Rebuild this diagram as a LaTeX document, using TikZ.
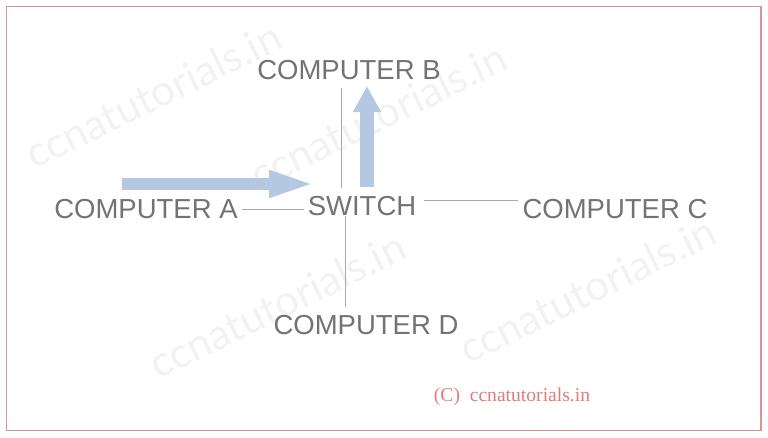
\documentclass[tikz,border=0pt]{standalone}
\usepackage{fontspec}
\setmainfont{Liberation Sans}
\newfontfamily\wmfont{Lato}
\newfontfamily\notefont{Liberation Serif}
\usetikzlibrary{arrows.meta}
\definecolor{labelgray}{HTML}{737373}
\definecolor{linkgray}{HTML}{A8A8A8}
\definecolor{flowblue}{HTML}{B4C8E1}
\definecolor{framepink}{HTML}{D99595}
\definecolor{notered}{HTML}{E07B7B}
\definecolor{wmgray}{HTML}{F2F2F2}
\tikzstyle{device}=[text=labelgray, font=\fontsize{27.5}{30}\selectfont, inner xsep=4pt, inner ysep=8pt]
\tikzstyle{link}=[draw=linkgray, line width=0.9pt]
\tikzstyle{flow}=[draw=flowblue, line width=12pt, -{Triangle[length=47pt, width=24pt]}]
\tikzstyle{upflow}=[draw=flowblue, line width=14pt, -{Triangle[length=26pt, width=26pt]}]
\tikzstyle{watermark}=[text=wmgray, font=\wmfont\fontsize{42}{46}\selectfont, rotate=26]

\begin{document}
\begin{tikzpicture}[x=1pt, y=-1pt]
	\useasboundingbox (0,0) rectangle (768,437);
	% background marks
	\begin{scope}
		\node (w1) at (153, 95)[watermark] {ccnatutorials.in};
		\node (w2) at (378, 116)[watermark] {ccnatutorials.in};
		\node (w3) at (277, 305)[watermark] {ccnatutorials.in};
		\node (w4) at (587, 290)[watermark] {ccnatutorials.in};
	\end{scope}
	\draw [draw=framepink, line width=1.2pt] (6.5, 6.5) rectangle (761, 430.5);
	% devices
	\begin{scope}
		\node (sw) at (362, 206)[device] {SWITCH};
		\node (a) at (146, 209)[device] {COMPUTER A};
		\node (b) at (349, 70)[device] {COMPUTER B};
		\node (c) at (615, 209)[device] {COMPUTER C};
		\node (d) at (366, 325)[device] {COMPUTER D};
	\end{scope}
	% cables
	\begin{scope}
		\path [link] (a.east) edge (a.east -| sw.west);
		\path [link] ([xshift=4pt, yshift=6pt]sw.east) edge ([yshift=6pt]sw.east -| c.west);
		\path [link] ([xshift=-21pt]sw.north) edge ([xshift=-21pt]sw.north |- b.south);
		\path [link] ([xshift=-17pt, yshift=8pt]sw.south) edge ([xshift=-17pt]sw.south |- d.north);
	\end{scope}
	% frame flow
	\coordinate (f1) at (122, 184);
	\coordinate (f2) at (316, 184);
	\coordinate (f3) at (367, 187);
	\coordinate (f4) at (367, 86);
	\draw [flow] (f1) -- (f2);
	\draw [upflow] (f3) -- (f4);
	\node (note) at (512, 397)[text=notered, font=\notefont\fontsize{19.6}{22}\selectfont] {(C)\enspace ccnatutorials.in};
\end{tikzpicture}
\end{document}
